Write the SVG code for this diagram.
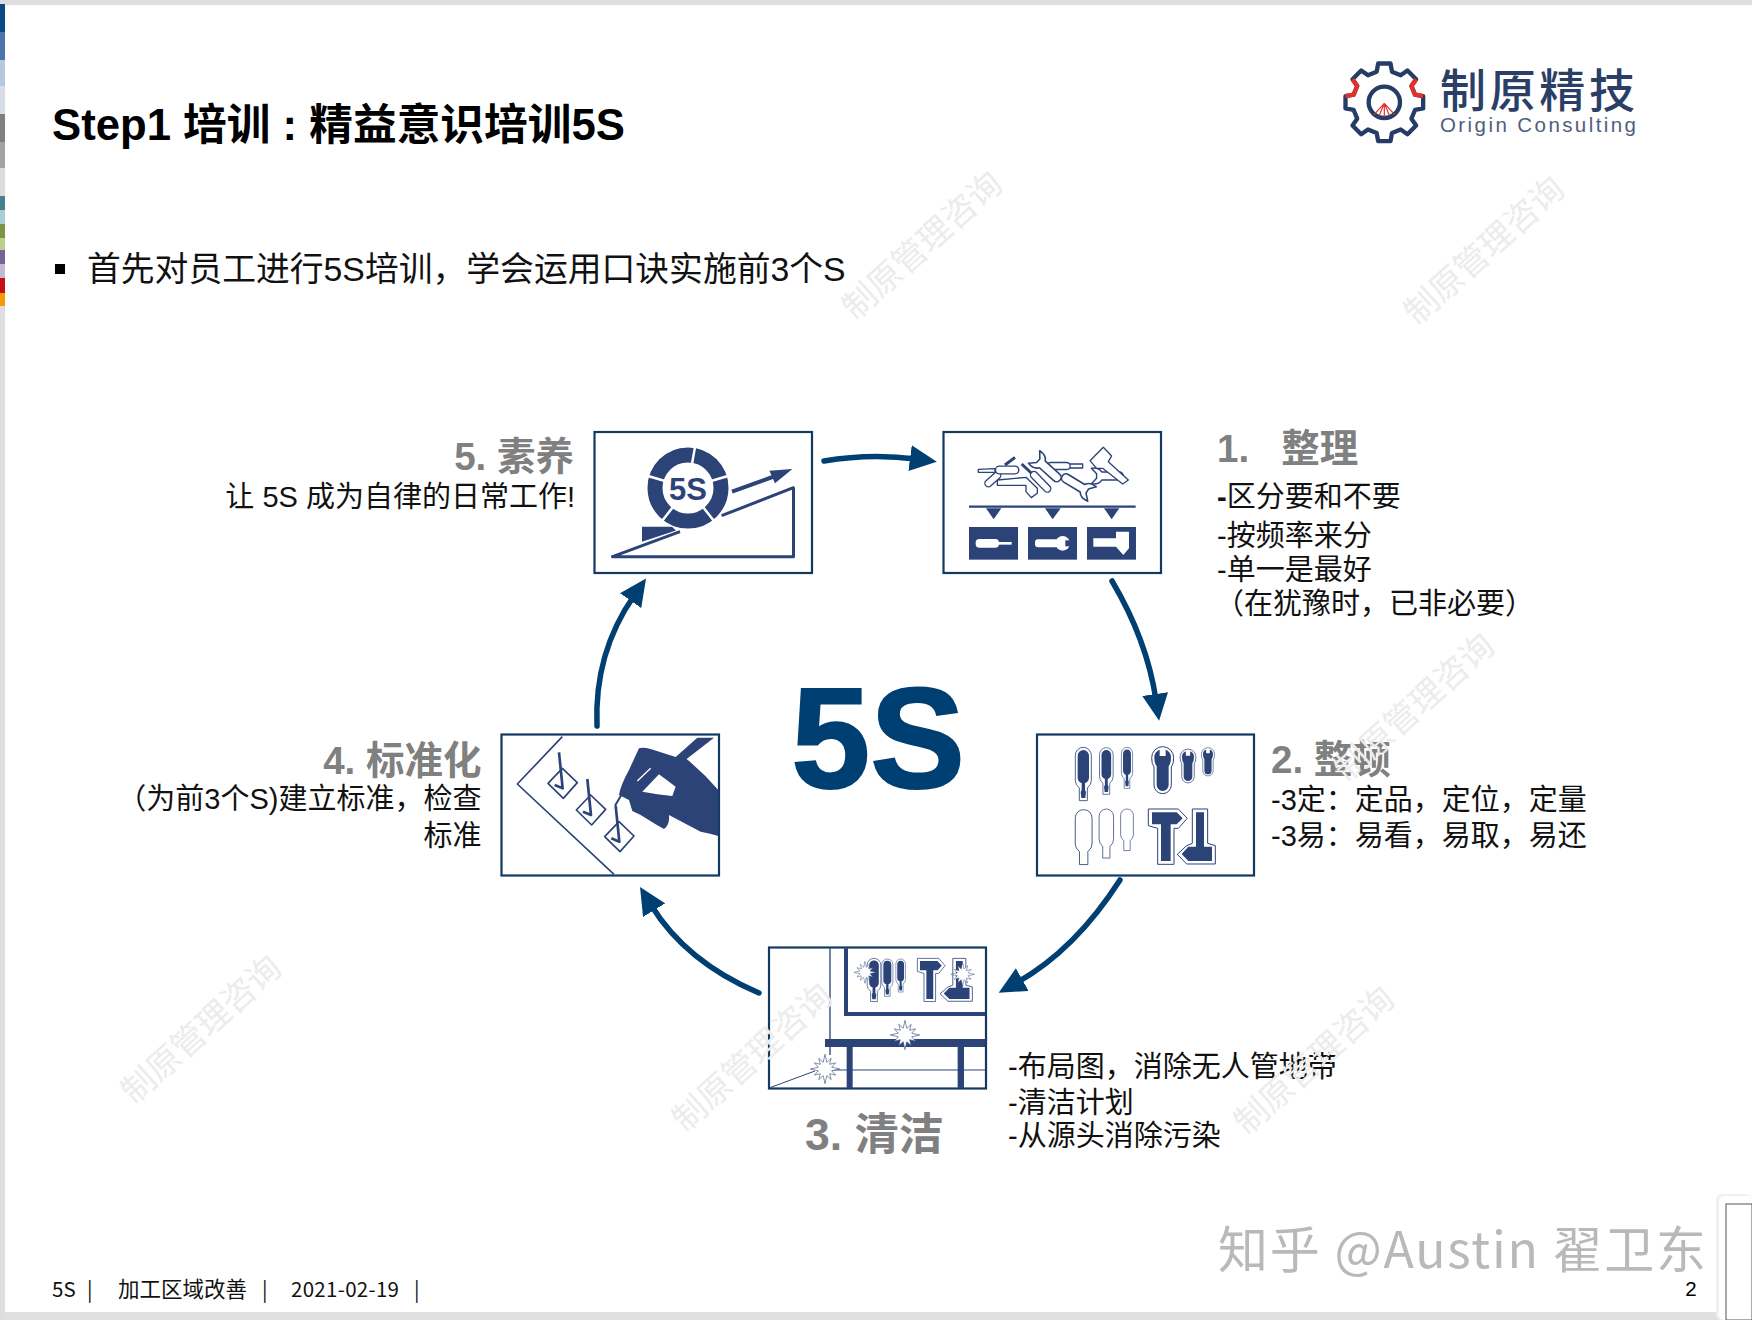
<svg xmlns="http://www.w3.org/2000/svg" xmlns:xlink="http://www.w3.org/1999/xlink" width="1752" height="1320" viewBox="0 0 1752 1320">
<style>
text{font-family:"Liberation Sans","Noto Sans CJK SC",sans-serif;fill:#000}
.head{font-weight:700;font-size:38.5px;fill:#808080}
.body{font-size:29px;fill:#111}
.foot{font-size:20.5px;font-family:"Noto Sans CJK SC",sans-serif;fill:#111}
.wm{font-size:33.5px;font-family:"Noto Sans CJK SC",sans-serif;fill:#ececec;text-anchor:middle}
.box{fill:#fff;stroke:#123a60;stroke-width:2.2}
.n{fill:#2c4377}
.o{fill:#fff;stroke:#2c4377;stroke-width:4;stroke-linejoin:round}
.l{fill:none;stroke:#2c4377;stroke-linejoin:round}
.cap1{fill:none;stroke:#2c4377;stroke-linecap:round}
.cap2{fill:none;stroke:#fff;stroke-linecap:round}
.w{fill:#fff}
.conn{fill:none;stroke:#003f72;stroke-width:5.5;stroke-linecap:round}
.star{fill:#fff;stroke:#2c4377;stroke-width:1.8;stroke-linejoin:miter}
</style>
<defs>
<marker id="ah" markerUnits="userSpaceOnUse" markerWidth="28" markerHeight="26" refX="6" refY="13" orient="auto"><polygon points="0,0 27,13 0,26" fill="#003f72"/></marker>
<path id="sdo" d="M-24,24A24,24 0 0 1 24,24L24,100Q24,112 12,122L12,160L-12,160L-12,122Q-24,112-24,100Z" fill="#fff" stroke="#2c4377" stroke-width="2.5"/>
<g id="sd"><use xlink:href="#sdo"/><rect x="-17" y="8" width="34" height="100" rx="17" class="n"/><path class="n" d="M-5,100L5,100L5,128L8,134L6,152L-6,152L-8,134L-5,128Z"/></g>
<g id="wr"><path d="M-33,0A33,33 0 0 1 33,0Q33,20 26,28L26,82A26,26 0 0 1-26,82L-26,28Q-33,20-33,0Z" fill="#fff" stroke="#2c4377" stroke-width="3"/><path class="n" d="M-9,-24L-9,-5L9,-5L9,-24A25,25 0 0 1 25,0Q25,18 18,26L18,82A18,18 0 0 1-18,82L-18,26Q-25,18-25,0A25,25 0 0 1-9,-24Z"/></g>
<path id="owr" class="o" d="M0,-11L48,-11Q56,-24 76,-21L62,-6L62,6L76,21Q56,24 48,11L0,11A11,11 0 0 1 0,-11Z"/>
<g id="ht"><polygon points="265,222 355,222 382,250 355,280 342,280 342,388 293,388 293,280 265,272" fill="#fff" stroke="#2c4377" stroke-width="3" stroke-linejoin="round"/><polygon class="n" points="276,232 350,232 368,250 350,268 332,268 332,378 303,378 303,268 276,268"/></g>
<g id="hl"><polygon points="397,222 443,222 443,325 466,332 466,387 380,387 352,358 380,332 397,325" fill="#fff" stroke="#2c4377" stroke-width="3" stroke-linejoin="round"/><polygon class="n" points="408,232 432,232 432,335 456,335 456,378 385,378 365,357 385,335 408,335"/></g>
<polygon id="st" class="star" points="44,0 20,5.400 32,18.500 14.100,14.100 18.500,32 5.400,20 0,44 -5.400,20 -18.500,32 -14.100,14.100 -32,18.500 -20,5.400 -44,0 -20,-5.400 -32,-18.500 -14.100,-14.100 -18.500,-32 -5.400,-20 0,-44 5.400,-20 18.500,-32 14.100,-14.100 32,-18.500 20,-5.400"/>
</defs>

<rect width="1752" height="1320" fill="#fff"/>
<g id="frame">
<rect width="1752" height="5" fill="#dedede"/>
<rect y="1312" width="1752" height="8" fill="#e0e0e0"/>
<rect width="5" height="1320" fill="#dedede"/>
<rect y="4" width="5" height="28" fill="#0b4a86"/><rect y="32" width="5" height="28" fill="#4a76ad"/><rect y="60" width="5" height="26" fill="#b6c8de"/><rect y="86" width="5" height="28" fill="#d8dee8"/><rect y="114" width="5" height="28" fill="#808080"/><rect y="142" width="5" height="26" fill="#a3a3a3"/><rect y="168" width="5" height="28" fill="#dcdcdc"/><rect y="196" width="5" height="14" fill="#47818f"/><rect y="210" width="5" height="14" fill="#a6ced4"/><rect y="224" width="5" height="14" fill="#7a9644"/><rect y="238" width="5" height="12" fill="#bccf8e"/><rect y="250" width="5" height="14" fill="#7a6199"/><rect y="264" width="5" height="14" fill="#c3b9d4"/><rect y="278" width="5" height="15" fill="#c40f16"/><rect y="293" width="5" height="13" fill="#f59a00"/>
<rect x="1716" y="1194" width="36" height="126" rx="6" fill="#f0f0f0"/>
<rect x="1719" y="1196" width="33" height="124" rx="5" fill="#fff"/>
<rect x="1726" y="1204" width="26" height="116" fill="#fff" stroke="#555" stroke-width="1"/>
</g>

<g id="logo" transform="translate(1320,40) scale(.3333)">
<path fill="none" stroke="#253c66" stroke-width="13" stroke-linejoin="round" d="M174.500,70.500L211.500,70.500L216,95L242,105.600L262.400,91.500L288.500,117.600L274.400,138L285,164L309.500,168.500L309.500,205.500L285,210L274.400,236L288.500,256.400L262.400,282.500L242,268.400L216,279L211.500,303.500L174.500,303.500L170,279L144,268.400L123.600,282.500L97.500,256.400L111.600,236L101,210L76.500,205.500L76.500,168.500L101,164L111.600,138L97.500,117.600L123.600,91.500L144,105.600L170,95Z"/>
<path fill="none" stroke="#e0312c" stroke-width="13" stroke-linejoin="round" d="M288.500,117.600L274.400,138L285,164L309.500,168.500M97.500,117.600L111.600,138L101,164L76.500,168.500"/>
<circle cx="193" cy="187" r="47" fill="none" stroke="#253c66" stroke-width="13"/>
<path fill="none" stroke="#e0312c" stroke-width="3.500" d="M193,190L162,224M193,190L177,228M193,190L193,230M193,190L209,228M193,190L224,224"/>
</g>
<text id="logo-cn" x="1440" y="107" font-size="46" font-weight="500" style="fill:#2b3f66;font-family:'Noto Sans CJK SC',sans-serif" textLength="195" lengthAdjust="spacing">制原精技</text>
<text id="logo-en" x="1440" y="131.500" font-size="20.500" style="fill:#4f5e7e" textLength="196" lengthAdjust="spacing">Origin Consulting</text>

<text id="title" x="52" y="139.500" font-size="43.700" font-weight="700">Step1 培训 : 精益意识培训5S</text>
<rect id="bullet" x="55" y="264" width="10" height="10" fill="#000"/>
<text id="subtitle" x="87" y="281" font-size="33.800" style="fill:#111">首先对员工进行5S培训，学会运用口诀实施前3个S</text>
<text id="center" x="878" y="788" font-size="142" font-weight="700" text-anchor="middle" style="fill:#003f72;stroke:#003f72;stroke-width:2">5S</text>

<g id="connectors">
<path class="conn" marker-end="url(#ah)" d="M824,461Q870,453 916,459"/>
<path class="conn" marker-end="url(#ah)" d="M1112,581Q1147,640 1156,700"/>
<path class="conn" marker-end="url(#ah)" d="M1120,880Q1075,950 1017,982.500"/>
<path class="conn" marker-end="url(#ah)" d="M759,993Q686,962 651,905"/>
<path class="conn" marker-end="url(#ah)" d="M597,726Q594,653 634,595.700"/>
</g>

<g id="node5">
<rect class="box" x="594.500" y="432" width="217.500" height="141"/>
<path class="l" stroke-width="3" d="M680,531.700L612.500,556.700L793.500,556.700L793.500,487.700L721.600,515.700"/>
<polygon class="n" points="642,526.700 672,526.700 676,530.500 642,541.700"/>
<circle cx="688" cy="488" r="33" fill="none" stroke="#2c4377" stroke-width="15"/>
<path fill="none" stroke="#fff" stroke-width="2.500" d="M692,464L695,447M711,481L728,476M703,507L714,521M673,507L662,521M665,481L648,476"/>
<text x="688" y="500" font-size="31" font-weight="700" text-anchor="middle" style="fill:#2c4377">5S</text>
<path class="l" stroke-width="4" d="M732,491.700L778,475"/>
<polygon class="n" points="792.400,469 769.400,470.700 775,483.300"/>
<text class="head" x="574" y="470" text-anchor="end">5. 素养</text>
<text class="body" x="575" y="507" text-anchor="end">让 5S 成为自律的日常工作!</text>
</g>

<g id="node1">
<rect class="box" x="943.500" y="432" width="217.500" height="141"/>
<g transform="translate(960,440) scale(.3333)">
<path class="o" d="M112,120L198,112L232,145L232,160L214,173L198,155L198,136L112,136Z"/>
<line class="cap1" stroke-width="25" x1="85" y1="130" x2="112" y2="106"/><line class="cap2" stroke-width="17" x1="85" y1="130" x2="112" y2="106"/>
<path class="o" d="M55,88L105,86L105,97L55,97Z"/>
<path class="l" stroke-width="9" d="M135,75L165,52"/>
<line class="cap1" stroke-width="27" x1="118" y1="90" x2="165" y2="90"/><line class="cap2" stroke-width="19" x1="118" y1="90" x2="165" y2="90"/>
<path class="o" d="M320,72L368,72L368,84L320,84Z"/>
<line class="cap1" stroke-width="25" x1="272" y1="78" x2="320" y2="78"/><line class="cap2" stroke-width="17" x1="272" y1="78" x2="320" y2="78"/>
<use xlink:href="#owr" transform="translate(290,112) rotate(-138) scale(1.2)"/>
<path class="l" stroke-width="9" d="M185,72L220,105"/>
<line class="cap1" stroke-width="25" x1="222" y1="105" x2="262" y2="146"/><line class="cap2" stroke-width="17" x1="222" y1="105" x2="262" y2="146"/>
<use xlink:href="#owr" transform="translate(478,108) rotate(180) scale(1.1)"/>
<use xlink:href="#owr" transform="translate(318,115) rotate(31) scale(1.2)"/>
<path class="o" d="M390,62L430,22L455,48L445,65L505,120L488,132L428,85L410,85Z"/>
<line x1="27" y1="200" x2="527" y2="200" stroke="#2c4377" stroke-width="7"/>
<polygon class="n" points="78,205 124,205 101,238"/><polygon class="n" points="255,205 302,205 278,238"/><polygon class="n" points="432,205 478,205 455,238"/>
<rect class="n" x="27" y="261" width="147" height="98"/><rect class="n" x="204" y="261" width="147" height="98"/><rect class="n" x="381" y="261" width="147" height="98"/>
<rect class="w" x="47" y="297" width="70" height="26" rx="11"/><rect class="w" x="115" y="306" width="40" height="8"/>
<rect class="w" x="225" y="298" width="70" height="24" rx="9"/><circle class="w" cx="308" cy="310" r="22"/><rect class="n" x="316" y="301" width="16" height="18"/>
<polygon class="w" points="400,295 468,295 468,275 507,275 507,325 490,345 472,325 468,320 400,320"/>
</g>
<text class="head" x="1217" y="462" xml:space="preserve">1.   整理</text>
<text class="body" x="1217" y="507"><tspan font-weight="700">-</tspan>区分要和不要</text>
<text class="body" x="1217" y="546">-按频率来分</text>
<text class="body" x="1217" y="580">-单一是最好</text>
<text class="body" x="1215" y="614">（在犹豫时，已非必要）</text>
</g>

<g id="node2">
<rect class="box" x="1037" y="734.500" width="217" height="141"/>
<g transform="translate(1060,735) scale(.3333)">
<use xlink:href="#sd" transform="translate(70,37)"/>
<use xlink:href="#sd" transform="translate(139,38) scale(.85,.875)"/>
<use xlink:href="#sd" transform="translate(201,37) scale(.7,.77)"/>
<use xlink:href="#wr" transform="translate(308,68)"/>
<use xlink:href="#wr" transform="translate(384,66) scale(.72)"/>
<use xlink:href="#wr" transform="translate(444,58) scale(.6)"/>
<use xlink:href="#sdo" transform="translate(71,224) scale(1.05,1.03)"/>
<use xlink:href="#sdo" transform="translate(139,222) scale(.9,.92)"/>
<use xlink:href="#sdo" transform="translate(201,222) scale(.8,.78)"/>
<use xlink:href="#ht"/><use xlink:href="#hl"/>
</g>
<text class="head" x="1271" y="773">2. 整顿</text>
<text class="body" x="1271" y="810">-3定：定品，定位，定量</text>
<text class="body" x="1271" y="846">-3易：易看，易取，易还</text>
</g>

<g id="node3">
<rect class="box" x="769" y="947.500" width="217" height="141"/>
<g transform="translate(770,945) scale(.3333)">
<line x1="180" y1="10" x2="180" y2="330" stroke="#2c4377" stroke-width="4"/>
<path class="n" d="M222,10L234,10L234,201L646,201L646,213L222,213Z"/>
<rect class="n" x="165" y="282" width="481" height="24"/>
<rect class="n" x="230" y="306" width="18" height="124"/><rect class="n" x="563" y="306" width="19" height="124"/>
<line x1="150" y1="375" x2="646" y2="375" stroke="#2c4377" stroke-width="3"/>
<line x1="0" y1="428" x2="135" y2="378" stroke="#2c4377" stroke-width="3"/>
<use xlink:href="#sd" transform="translate(312,40) scale(.85,.81)"/>
<use xlink:href="#sd" transform="translate(352,42) scale(.7,.7)"/>
<use xlink:href="#sd" transform="translate(392,42) scale(.6,.62)"/>
<use xlink:href="#ht" transform="translate(254,-133) scale(.71,.78)"/>
<use xlink:href="#hl" transform="translate(211,-133) scale(.85,.78)"/>
<use xlink:href="#st" transform="translate(285,82) scale(.75)"/>
<use xlink:href="#st" transform="translate(578,88) scale(.8)"/>
<use xlink:href="#st" transform="translate(405,270)"/>
<use xlink:href="#st" transform="translate(165,372)"/>
</g>
<text class="head" x="805" y="1150" style="font-size:44.500px">3. 清洁</text>
<text class="body" x="1008" y="1077">-布局图，消除无人管地带</text>
<text class="body" x="1008" y="1113">-清洁计划</text>
<text class="body" x="1008" y="1146">-从源头消除污染</text>
</g>

<g id="node4">
<rect class="box" x="501.500" y="734.500" width="217.500" height="141"/>
<g transform="translate(504,735) scale(.3333)">
<polyline class="l" stroke-width="5" points="175,5 40,147 330,418"/>
<g id="chk"><polygon class="l" stroke-width="5" points="175,100 220,143 178,190 132,145"/><path class="l" stroke-width="8" d="M152,150L176,160L165,52"/></g>
<use xlink:href="#chk" transform="translate(85,80)"/>
<use xlink:href="#chk" transform="translate(170,160)"/>
<path class="n" d="M405,40Q415,35 440,42L515,66L580,8L630,8L548,72Q600,115 643,165L643,303Q620,295 590,290L495,240Q498,270 480,282L455,268L410,240L385,228L375,195L345,180Q350,150 375,105Z"/>
<polygon class="w" points="415,170 465,118 515,155 505,183 460,178"/>
<path fill="none" stroke="#fff" stroke-width="4" d="M400,138L440,100"/>
<path class="l" stroke-width="6" d="M333,212L352,180"/>
</g>
<text class="head" x="481.500" y="774" text-anchor="end">4. 标准化</text>
<text class="body" x="481.500" y="809" text-anchor="end">（为前3个S)建立标准，检查</text>
<text class="body" x="481.500" y="846" text-anchor="end">标准</text>
</g>

<g id="footer">
<text class="foot" x="52" y="1297">5S</text><text class="foot" x="87" y="1297">|</text>
<text class="foot" x="118" y="1297" style="font-size:21.500px">加工区域改善</text><text class="foot" x="262" y="1297">|</text>
<text class="foot" x="291" y="1297" textLength="108">2021-02-19</text><text class="foot" x="414" y="1297">|</text>
<text x="1691" y="1296" font-size="20.500" text-anchor="middle">2</text>
</g>

<g id="watermarks">
<text class="wm" transform="translate(930,254) rotate(-42)">制原管理咨询</text>
<text class="wm" transform="translate(1492,259) rotate(-42)">制原管理咨询</text>
<text class="wm" transform="translate(1422,716) rotate(-42)">制原管理咨询</text>
<text class="wm" transform="translate(209,1038) rotate(-42)">制原管理咨询</text>
<text class="wm" transform="translate(760,1066) rotate(-42)">制原管理咨询</text>
<text class="wm" transform="translate(1322,1069) rotate(-42)">制原管理咨询</text>
</g>
<text id="zhihu" x="1218" y="1268" font-size="50" style="fill:#b9b9b9;font-family:'Noto Sans CJK SC',sans-serif" textLength="488" lengthAdjust="spacing">知乎 @Austin 翟卫东</text>
</svg>
